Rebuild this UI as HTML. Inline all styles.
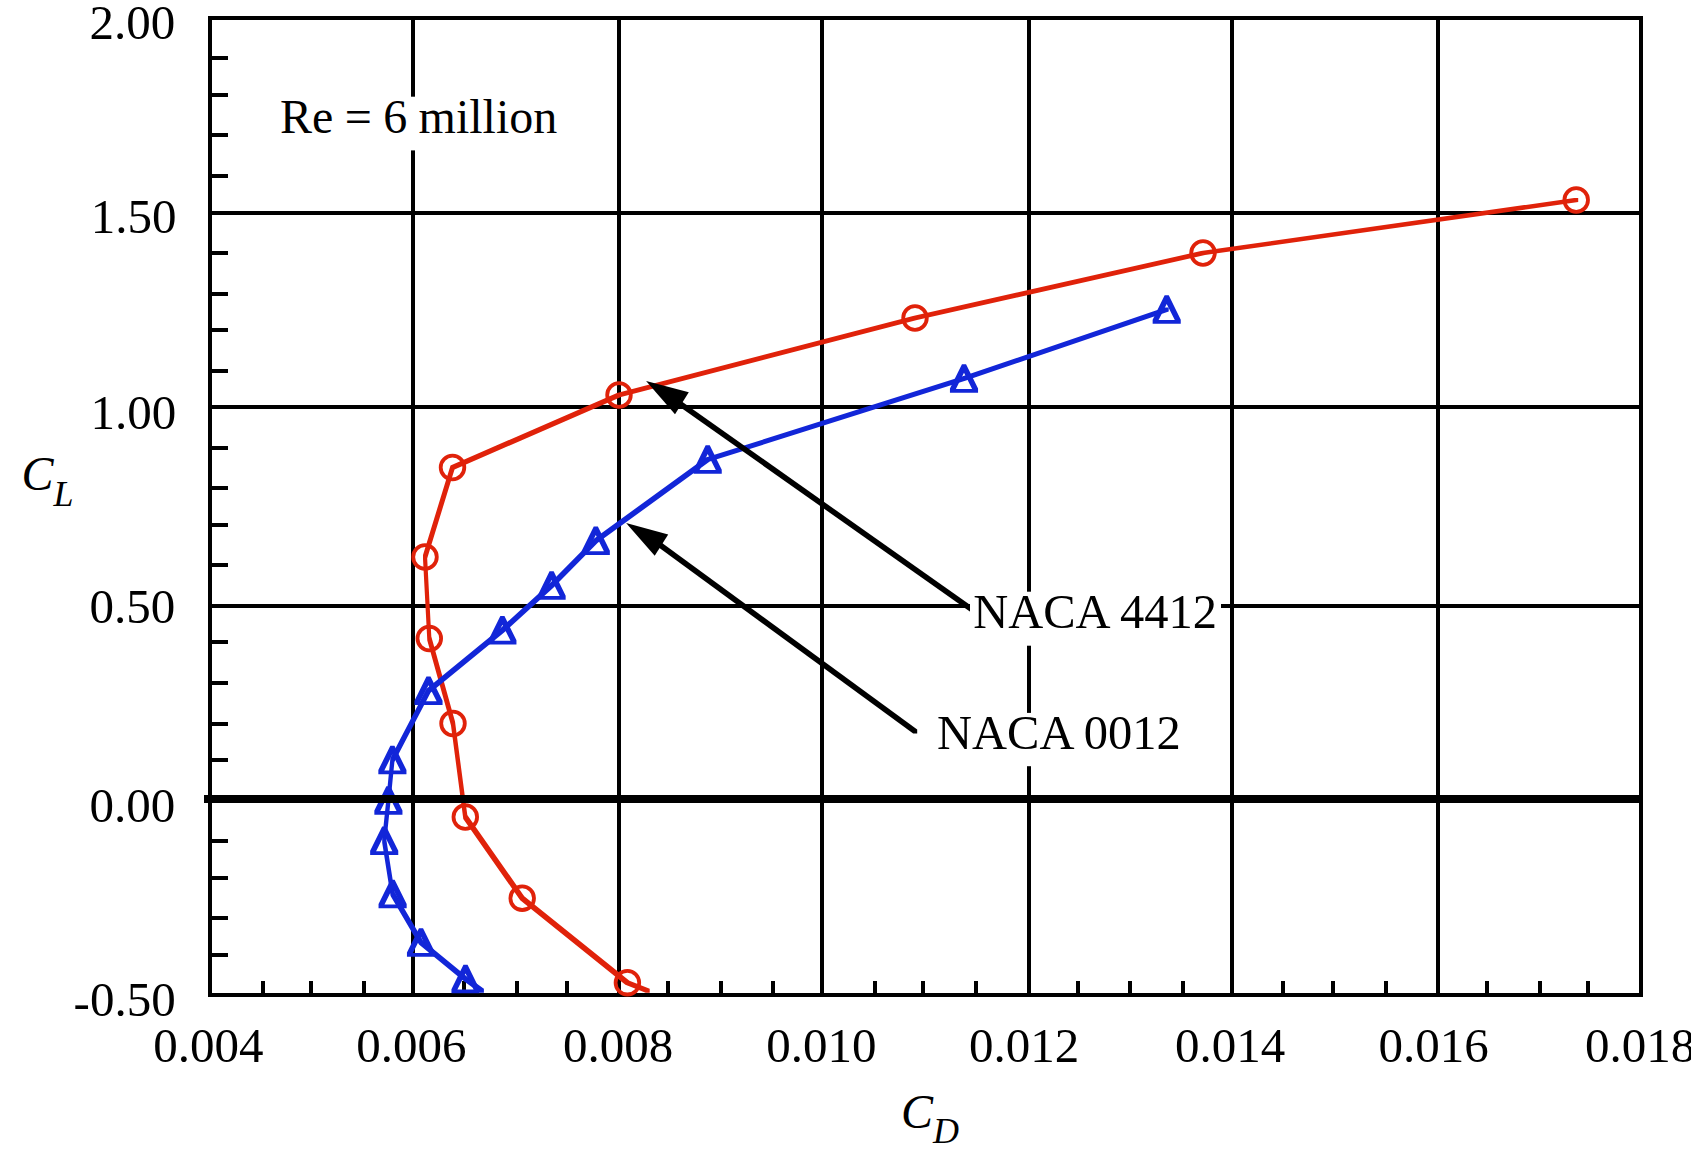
<!DOCTYPE html>
<html><head><meta charset="utf-8"><title>NACA 4412 vs NACA 0012 drag polar</title>
<style>html,body{margin:0;padding:0;background:#fff;}svg{display:block;}text{font-family:"Liberation Serif","Times New Roman",serif;fill:#000;}</style></head><body>
<svg width="1691" height="1152" viewBox="0 0 1691 1152">
<rect x="0" y="0" width="1691" height="1152" fill="#fff"/>
<path d="M413 18V995 M619 18V995 M822 18V995 M1029 18V995 M1232 18V995 M1438 18V995 M210 213H1641 M210 407H1641 M210 606H1641" stroke="#000" stroke-width="4" fill="none"/>
<path d="M263 993V981 M311 993V981 M364 993V981 M464 993V981 M517 993V981 M567 993V981 M668 993V981 M721 993V981 M773 993V981 M875 993V981 M923 993V981 M976 993V981 M1078 993V981 M1130 993V981 M1183 993V981 M1283 993V981 M1333 993V981 M1386 993V981 M1487 993V981 M1540 993V981 M1588 993V981 M212 58H228 M212 95H228 M212 135H228 M212 176H228 M212 253H228 M212 294H228 M212 330H228 M212 371H228 M212 448H228 M212 488H228 M212 525H228 M212 565H228 M212 642H228 M212 683H228 M212 724H228 M212 760H228 M212 841H228 M212 878H228 M212 918H228 M212 955H228" stroke="#000" stroke-width="4" fill="none"/>
<rect x="210" y="18" width="1431" height="977" stroke="#000" stroke-width="4" fill="none"/>
<path d="M1201 251L1574.2 198L1578.2 198L1578.2 202L1205 255L1201 255ZM913 316L1201 251L1205 251L1205 255L917 320L913 320ZM617 393L913 316L917 316L917 320L621 397L617 397ZM450.5 465.5L617 393L621 393L621 397L454.5 469.5L450.5 469.5ZM423 555L450.5 465.5L454.5 465.5L454.5 469.5L427 559L423 559ZM423 555L427 555L431.3 636.5L431.3 640.5L427.3 640.5L423 559ZM427.3 636.5L431.3 636.5L455 721.5L455 725.5L451 725.5L427.3 640.5ZM451 721.5L455 721.5L467.3 815L467.3 819L463.3 819L451 725.5ZM463.3 815L467.3 815L524.2 896.2L524.2 900.2L520.2 900.2L463.3 819ZM520.2 896.2L524.2 896.2L629.4 980.7L629.4 984.7L625.4 984.7L520.2 900.2ZM625.4 980.7L629.4 980.7L649.7 988.7L649.7 992.7L645.7 992.7L625.4 984.7Z" fill="#e0220a"/>
<circle cx="1576.2" cy="200" r="11.8" fill="none" stroke="#e0220a" stroke-width="3.8"/>
<circle cx="1203" cy="253" r="11.8" fill="none" stroke="#e0220a" stroke-width="3.8"/>
<circle cx="915" cy="318" r="11.8" fill="none" stroke="#e0220a" stroke-width="3.8"/>
<circle cx="619" cy="395" r="11.8" fill="none" stroke="#e0220a" stroke-width="3.8"/>
<circle cx="452.5" cy="467.5" r="11.8" fill="none" stroke="#e0220a" stroke-width="3.8"/>
<circle cx="425" cy="557" r="11.8" fill="none" stroke="#e0220a" stroke-width="3.8"/>
<circle cx="429.3" cy="638.5" r="11.8" fill="none" stroke="#e0220a" stroke-width="3.8"/>
<circle cx="453" cy="723.5" r="11.8" fill="none" stroke="#e0220a" stroke-width="3.8"/>
<circle cx="465.3" cy="817" r="11.8" fill="none" stroke="#e0220a" stroke-width="3.8"/>
<circle cx="522.2" cy="898.2" r="11.8" fill="none" stroke="#e0220a" stroke-width="3.8"/>
<circle cx="627.4" cy="982.7" r="11.8" fill="none" stroke="#e0220a" stroke-width="3.8"/>
<path d="M962 376.5L1164.7 307.6L1168.7 307.6L1168.7 311.6L966 380.5L962 380.5ZM705.7 457.6L962 376.5L966 376.5L966 380.5L709.7 461.6L705.7 461.6ZM593.8 538.7L705.7 457.6L709.7 457.6L709.7 461.6L597.8 542.7L593.8 542.7ZM549.6 583.6L593.8 538.7L597.8 538.7L597.8 542.7L553.6 587.6L549.6 587.6ZM500.4 628.3L549.6 583.6L553.6 583.6L553.6 587.6L504.4 632.3L500.4 632.3ZM426.5 688.8L500.4 628.3L504.4 628.3L504.4 632.3L430.5 692.8L426.5 692.8ZM390.4 758L426.5 688.8L430.5 688.8L430.5 692.8L394.4 762L390.4 762ZM386.4 798.5L390.4 758L394.4 758L394.4 762L390.4 802.5L386.4 802.5ZM382.2 838.7L386.4 798.5L390.4 798.5L390.4 802.5L386.2 842.7L382.2 842.7ZM382.2 838.7L386.2 838.7L394.6 892L394.6 896L390.6 896L382.2 842.7ZM390.6 892L394.6 892L423 940.5L423 944.5L419 944.5L390.6 896ZM419 940.5L423 940.5L467.5 977.1L467.5 981.1L463.5 981.1L419 944.5ZM463.5 977.1L467.5 977.1L483.9 988.8L483.9 992.8L479.9 992.8L463.5 981.1Z" fill="#1226d8"/>
<path d="M1164.65 295.35L1168.75 295.35L1180.75 319.65L1180.75 323.85L1152.65 323.85L1152.65 319.65ZM1166.70 303.95L1174.80 320.05L1158.60 320.05Z" fill="#1226d8" fill-rule="evenodd"/>
<path d="M961.95 364.25L966.05 364.25L978.05 388.55L978.05 392.75L949.95 392.75L949.95 388.55ZM964.00 372.85L972.10 388.95L955.90 388.95Z" fill="#1226d8" fill-rule="evenodd"/>
<path d="M705.65 445.35L709.75 445.35L721.75 469.65L721.75 473.85L693.65 473.85L693.65 469.65ZM707.70 453.95L715.80 470.05L699.60 470.05Z" fill="#1226d8" fill-rule="evenodd"/>
<path d="M593.75 526.45L597.85 526.45L609.85 550.75L609.85 554.95L581.75 554.95L581.75 550.75ZM595.80 535.05L603.90 551.15L587.70 551.15Z" fill="#1226d8" fill-rule="evenodd"/>
<path d="M549.55 571.35L553.65 571.35L565.65 595.65L565.65 599.85L537.55 599.85L537.55 595.65ZM551.60 579.95L559.70 596.05L543.50 596.05Z" fill="#1226d8" fill-rule="evenodd"/>
<path d="M500.35 616.05L504.45 616.05L516.45 640.35L516.45 644.55L488.35 644.55L488.35 640.35ZM502.40 624.65L510.50 640.75L494.30 640.75Z" fill="#1226d8" fill-rule="evenodd"/>
<path d="M426.45 676.55L430.55 676.55L442.55 700.85L442.55 705.05L414.45 705.05L414.45 700.85ZM428.50 685.15L436.60 701.25L420.40 701.25Z" fill="#1226d8" fill-rule="evenodd"/>
<path d="M390.35 745.75L394.45 745.75L406.45 770.05L406.45 774.25L378.35 774.25L378.35 770.05ZM392.40 754.35L400.50 770.45L384.30 770.45Z" fill="#1226d8" fill-rule="evenodd"/>
<path d="M386.35 786.25L390.45 786.25L402.45 810.55L402.45 814.75L374.35 814.75L374.35 810.55ZM388.40 794.85L396.50 810.95L380.30 810.95Z" fill="#1226d8" fill-rule="evenodd"/>
<path d="M382.15 826.45L386.25 826.45L398.25 850.75L398.25 854.95L370.15 854.95L370.15 850.75ZM384.20 835.05L392.30 851.15L376.10 851.15Z" fill="#1226d8" fill-rule="evenodd"/>
<path d="M390.55 879.75L394.65 879.75L406.65 904.05L406.65 908.25L378.55 908.25L378.55 904.05ZM392.60 888.35L400.70 904.45L384.50 904.45Z" fill="#1226d8" fill-rule="evenodd"/>
<path d="M418.95 928.25L423.05 928.25L435.05 952.55L435.05 956.75L406.95 956.75L406.95 952.55ZM421.00 936.85L429.10 952.95L412.90 952.95Z" fill="#1226d8" fill-rule="evenodd"/>
<path d="M463.45 964.85L467.55 964.85L479.55 989.15L479.55 993.35L451.45 993.35L451.45 989.15ZM465.50 973.45L473.60 989.55L457.40 989.55Z" fill="#1226d8" fill-rule="evenodd"/>
<rect x="204" y="795" width="1435" height="8" fill="#000"/>
<path d="M670 396L674 396L977 609.8L977 613.8L973 613.8L670 400Z" fill="#000"/>
<path d="M646.1 381L688.8 392.3L675 414.3Z" fill="#000"/>
<path d="M654 540L658 540L917.2 729.6L917.2 733.6L913.2 733.6L654 544Z" fill="#000"/>
<path d="M626.1 523.1L668.2 534.4L654.7 555.8Z" fill="#000"/>
<rect x="275" y="96.7" width="287" height="53.7" fill="#fff"/>
<rect x="970" y="591.7" width="251" height="54" fill="#fff"/>
<rect x="933" y="712.9" width="252" height="53.3" fill="#fff"/>
<g font-size="49">
<text x="89.5" y="39.4">2.00</text>
<text x="90.7" y="233.0">1.50</text>
<text x="90.6" y="428.5">1.00</text>
<text x="89.6" y="623.3">0.50</text>
<text x="89.6" y="821.6">0.00</text>
<text x="73.6" y="1016.3"><tspan dy="2.5">-</tspan><tspan dy="-2.5">0.50</tspan></text>
<text x="153.3" y="1061.5">0.004</text>
<text x="356.3" y="1061.5">0.006</text>
<text x="563.1" y="1061.5">0.008</text>
<text x="766.2" y="1061.5">0.010</text>
<text x="969.0" y="1061.5">0.012</text>
<text x="1175.1" y="1061.5">0.014</text>
<text x="1378.4" y="1061.9">0.016</text>
<text x="1585.0" y="1061.5">0.018</text>
</g>
<text x="280" y="133.3" font-size="48" word-spacing="-0.6">Re = 6 million</text>
<g font-size="48.5">
<text x="973.2" y="628">NACA 4412</text>
<text x="937" y="749">NACA 0012</text>
</g>
<text x="21.4" y="490.4" font-size="48" font-style="italic">C<tspan font-size="36" dy="15.6">L</tspan></text>
<text x="901" y="1127.6" font-size="48" font-style="italic">C<tspan font-size="36" dy="15">D</tspan></text>
</svg></body></html>
